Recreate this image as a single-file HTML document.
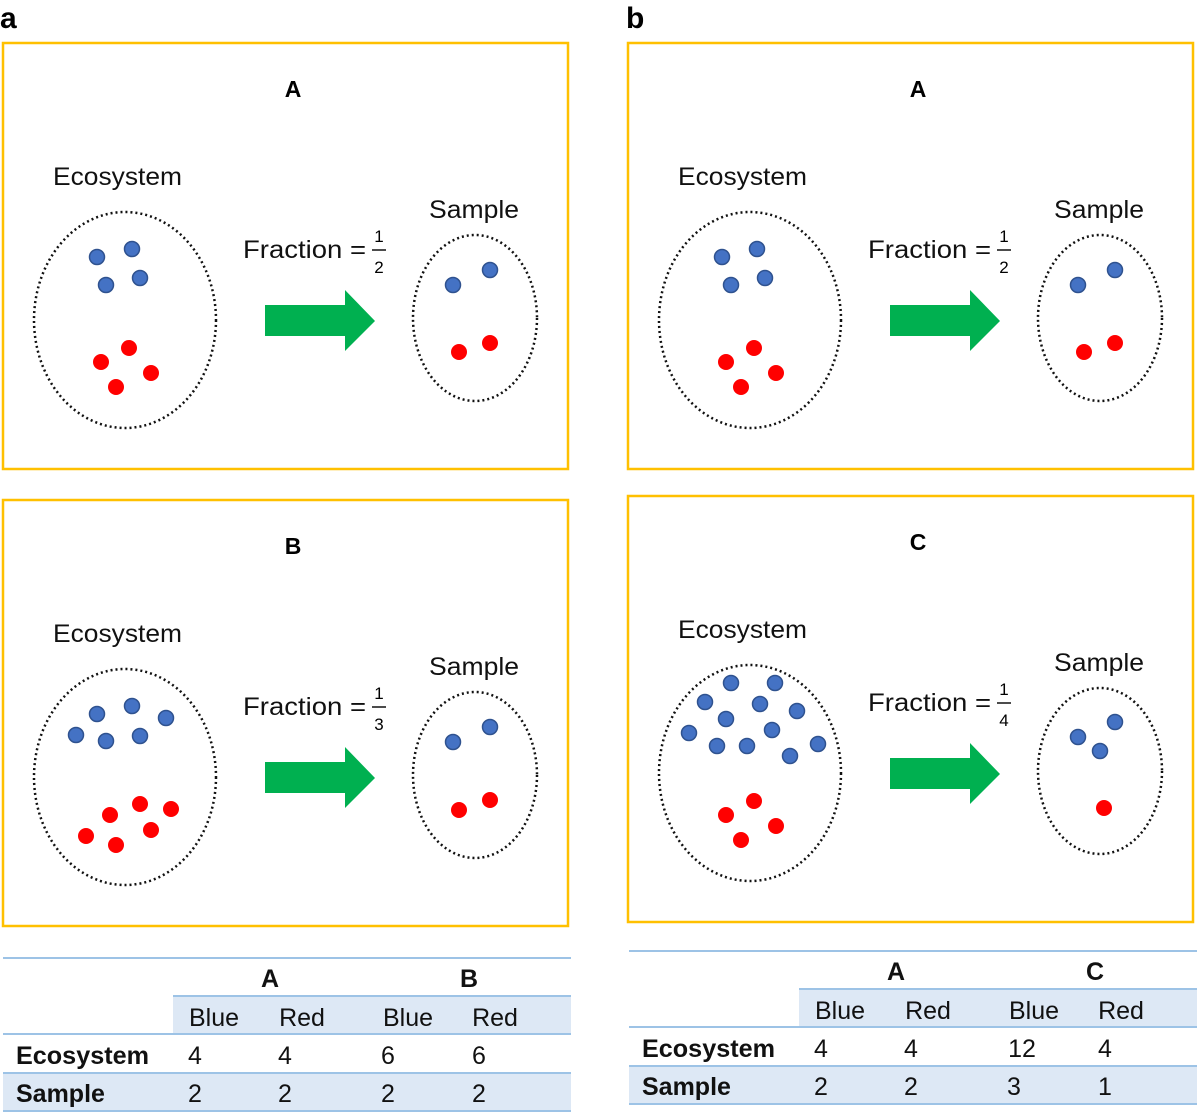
<!DOCTYPE html>
<html><head><meta charset="utf-8"><style>
html,body{margin:0;padding:0;background:#fff}
svg{display:block;font-family:"Liberation Sans",sans-serif}
</style></head><body>
<svg width="1200" height="1113" viewBox="0 0 1200 1113" xmlns="http://www.w3.org/2000/svg">
<defs>
<g id="arrow"><polygon points="265,305 345,305 345,290 375,321 345,351 345,336 265,336" fill="#00b050"/></g>
<g id="base">
<rect x="3" y="43" width="565" height="426" fill="none" stroke="#ffc000" stroke-width="2.5"/>
<text x="53" y="185" font-size="25" textLength="129" lengthAdjust="spacingAndGlyphs" fill="#111">Ecosystem</text>
<text x="429" y="218" font-size="25" textLength="90" lengthAdjust="spacingAndGlyphs" fill="#111">Sample</text>
<ellipse cx="125" cy="320" rx="91" ry="108" fill="none" stroke="#111" stroke-width="2.5" stroke-dasharray="2 3"/>
<ellipse cx="475" cy="318" rx="62" ry="83" fill="none" stroke="#111" stroke-width="2.5" stroke-dasharray="2 3"/>
<use href="#arrow"/>
<text x="243" y="258" font-size="25" textLength="123" lengthAdjust="spacingAndGlyphs" fill="#111">Fraction =</text>
<line x1="372" y1="250" x2="386" y2="250" stroke="#111" stroke-width="1.5"/>
</g>
</defs>
<g font-size="30" font-weight="bold" fill="#000"><text x="0" y="28">a</text><text x="626" y="28">b</text></g>

<!-- a-A -->
<g>
<use href="#base"/>
<text x="293" y="97" font-size="23" font-weight="bold" text-anchor="middle">A</text>
<text x="379" y="242" font-size="17" text-anchor="middle">1</text><text x="379" y="273" font-size="17" text-anchor="middle">2</text>
<g fill="#4472c4" stroke="#2f528f" stroke-width="1.5"><circle cx="97" cy="257" r="7.5"/><circle cx="132" cy="249" r="7.5"/><circle cx="106" cy="285" r="7.5"/><circle cx="140" cy="278" r="7.5"/><circle cx="453" cy="285" r="7.5"/><circle cx="490" cy="270" r="7.5"/></g>
<g fill="#ff0000"><circle cx="101" cy="362" r="8"/><circle cx="129" cy="348" r="8"/><circle cx="116" cy="387" r="8"/><circle cx="151" cy="373" r="8"/><circle cx="459" cy="352" r="8"/><circle cx="490" cy="343" r="8"/></g>
</g>

<!-- a-B -->
<g transform="translate(0,457)">
<use href="#base"/>
<text x="293" y="97" font-size="23" font-weight="bold" text-anchor="middle">B</text>
<text x="379" y="242" font-size="17" text-anchor="middle">1</text><text x="379" y="273" font-size="17" text-anchor="middle">3</text>
<g fill="#4472c4" stroke="#2f528f" stroke-width="1.5"><circle cx="97" cy="257" r="7.5"/><circle cx="132" cy="249" r="7.5"/><circle cx="166" cy="261" r="7.5"/><circle cx="76" cy="278" r="7.5"/><circle cx="106" cy="284" r="7.5"/><circle cx="140" cy="279" r="7.5"/><circle cx="453" cy="285" r="7.5"/><circle cx="490" cy="270" r="7.5"/></g>
<g fill="#ff0000"><circle cx="110" cy="358" r="8"/><circle cx="140" cy="347" r="8"/><circle cx="171" cy="352" r="8"/><circle cx="86" cy="379" r="8"/><circle cx="116" cy="388" r="8"/><circle cx="151" cy="373" r="8"/><circle cx="459" cy="353" r="8"/><circle cx="490" cy="343" r="8"/></g>
</g>

<!-- b-A -->
<g transform="translate(625,0)">
<use href="#base"/>
<text x="293" y="97" font-size="23" font-weight="bold" text-anchor="middle">A</text>
<text x="379" y="242" font-size="17" text-anchor="middle">1</text><text x="379" y="273" font-size="17" text-anchor="middle">2</text>
<g fill="#4472c4" stroke="#2f528f" stroke-width="1.5"><circle cx="97" cy="257" r="7.5"/><circle cx="132" cy="249" r="7.5"/><circle cx="106" cy="285" r="7.5"/><circle cx="140" cy="278" r="7.5"/><circle cx="453" cy="285" r="7.5"/><circle cx="490" cy="270" r="7.5"/></g>
<g fill="#ff0000"><circle cx="101" cy="362" r="8"/><circle cx="129" cy="348" r="8"/><circle cx="116" cy="387" r="8"/><circle cx="151" cy="373" r="8"/><circle cx="459" cy="352" r="8"/><circle cx="490" cy="343" r="8"/></g>
</g>

<!-- b-C -->
<g transform="translate(625,453)">
<use href="#base"/>
<text x="293" y="97" font-size="23" font-weight="bold" text-anchor="middle">C</text>
<text x="379" y="242" font-size="17" text-anchor="middle">1</text><text x="379" y="273" font-size="17" text-anchor="middle">4</text>
<g fill="#4472c4" stroke="#2f528f" stroke-width="1.5"><circle cx="106" cy="230" r="7.5"/><circle cx="150" cy="230" r="7.5"/><circle cx="80" cy="249" r="7.5"/><circle cx="135" cy="251" r="7.5"/><circle cx="172" cy="258" r="7.5"/><circle cx="101" cy="266" r="7.5"/><circle cx="64" cy="280" r="7.5"/><circle cx="147" cy="277" r="7.5"/><circle cx="92" cy="293" r="7.5"/><circle cx="122" cy="293" r="7.5"/><circle cx="193" cy="291" r="7.5"/><circle cx="165" cy="303" r="7.5"/><circle cx="453" cy="284" r="7.5"/><circle cx="490" cy="269" r="7.5"/><circle cx="475" cy="298" r="7.5"/></g>
<g fill="#ff0000"><circle cx="101" cy="362" r="8"/><circle cx="129" cy="348" r="8"/><circle cx="116" cy="387" r="8"/><circle cx="151" cy="373" r="8"/><circle cx="479" cy="355" r="8"/></g>
</g>

<!-- left table -->
<g font-size="25" fill="#111">
<rect x="173" y="996" width="398" height="38" fill="#dde8f5"/>
<rect x="3" y="1073" width="568" height="38" fill="#dde8f5"/>
<g stroke="#9dc3e6" stroke-width="2"><line x1="3" y1="958" x2="571" y2="958"/><line x1="173" y1="996" x2="571" y2="996"/><line x1="3" y1="1034" x2="571" y2="1034"/><line x1="3" y1="1073" x2="571" y2="1073"/><line x1="3" y1="1111" x2="571" y2="1111"/></g>
<g font-weight="bold" text-anchor="middle"><text x="270" y="987">A</text><text x="469" y="987">B</text></g>
<g text-anchor="middle"><text x="214" y="1026">Blue</text><text x="302" y="1026">Red</text><text x="408" y="1026">Blue</text><text x="495" y="1026">Red</text></g>
<g font-weight="bold"><text x="16" y="1064" textLength="133" lengthAdjust="spacingAndGlyphs">Ecosystem</text><text x="16" y="1102">Sample</text></g>
<g text-anchor="middle"><text x="195" y="1064">4</text><text x="285" y="1064">4</text><text x="388" y="1064">6</text><text x="479" y="1064">6</text>
<text x="195" y="1102">2</text><text x="285" y="1102">2</text><text x="388" y="1102">2</text><text x="479" y="1102">2</text></g>
</g>

<!-- right table -->
<g font-size="25" fill="#111" transform="translate(626,-7)">
<rect x="173" y="996" width="398" height="38" fill="#dde8f5"/>
<rect x="3" y="1073" width="568" height="38" fill="#dde8f5"/>
<g stroke="#9dc3e6" stroke-width="2"><line x1="3" y1="958" x2="571" y2="958"/><line x1="173" y1="996" x2="571" y2="996"/><line x1="3" y1="1034" x2="571" y2="1034"/><line x1="3" y1="1073" x2="571" y2="1073"/><line x1="3" y1="1111" x2="571" y2="1111"/></g>
<g font-weight="bold" text-anchor="middle"><text x="270" y="987">A</text><text x="469" y="987">C</text></g>
<g text-anchor="middle"><text x="214" y="1026">Blue</text><text x="302" y="1026">Red</text><text x="408" y="1026">Blue</text><text x="495" y="1026">Red</text></g>
<g font-weight="bold"><text x="16" y="1064" textLength="133" lengthAdjust="spacingAndGlyphs">Ecosystem</text><text x="16" y="1102">Sample</text></g>
<g text-anchor="middle"><text x="195" y="1064">4</text><text x="285" y="1064">4</text><text x="396" y="1064">12</text><text x="479" y="1064">4</text>
<text x="195" y="1102">2</text><text x="285" y="1102">2</text><text x="388" y="1102">3</text><text x="479" y="1102">1</text></g>
</g>
</svg>
</body></html>
